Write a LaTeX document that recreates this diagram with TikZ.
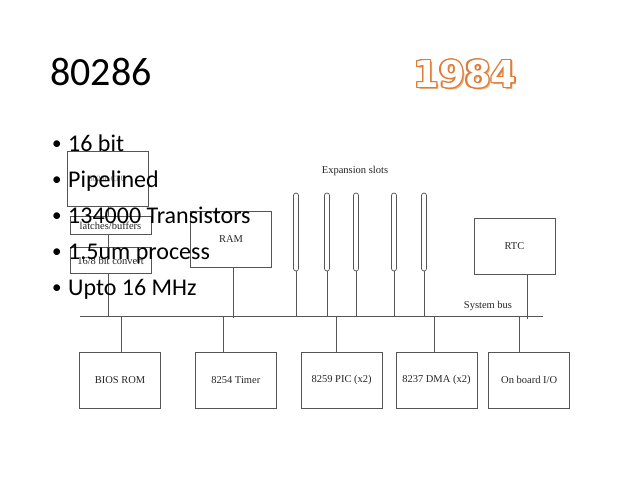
\documentclass[tikz,border=0pt]{standalone}
\usepackage{fontspec}
\setmainfont{Liberation Serif}
\newfontfamily\slidefont{Carlito}
\newfontfamily\yearfont{DejaVu Sans}
\usetikzlibrary{positioning, calc}
\definecolor{yearorange}{RGB}{224,122,52}
\definecolor{yearshadow}{RGB}{236,170,120}
\definecolor{wiregray}{RGB}{85,85,85}

\begin{document}
\begin{tikzpicture}[
        x = 1pt, y = -1pt,
        node distance = 10pt,
        every node/.style = {inner sep = 0pt},
        box/.style = {draw = wiregray, line width = 0.8pt, minimum width = 81pt, minimum height = 56pt,
                      font = \fontsize{10.5}{12}\selectfont, text = black!85},
        smallbox/.style = {box, minimum height = 18pt, font = \fontsize{10.5}{12}\selectfont},
        slot/.style = {draw = wiregray, line width = 0.7pt, rounded corners = 2.4pt,
                       minimum width = 5pt, minimum height = 78pt},
        wire/.style = {draw = wiregray, line width = 0.8pt},
        bullet/.style = {anchor = base west, font = \slidefont\fontsize{24}{28}\selectfont}
    ]

\useasboundingbox (0,0) rectangle (638,479);
\fill[white] (0,0) rectangle (638,479);

% cpu side
\node[box, minimum height = 55pt, font = \fontsize{8}{10}\selectfont, text = black!55] (cpu) at (107.5,178.5) {80286 CPU};
\node[smallbox] (latches) [below = 10pt of cpu, xshift = 3pt] {latches/buffers};
\node[smallbox, minimum height = 26pt] (convert) [below = 12pt of latches] {16/8 bit convert};
\node[box] (ram) at (231,239) {RAM};

% expansion slots
\node[font = \fontsize{10.5}{12}\selectfont, text = black!85] (slotlabel) at (355,171) {Expansion slots};
\foreach \x [count = \i] in {296, 327, 356, 394, 424}
    \node[slot] (slot\i) at (\x,232) {};

\node[box] (rtc) at (514.5,246) {RTC};

% system bus
\coordinate (busL) at (80,316);
\coordinate (busR) at (543,316);
\draw[wire] (busL) -- (busR);
\node[font = \fontsize{10.5}{12}\selectfont, text = black!85] (buslabel) at (488,306) {System bus};

% devices below the bus
\node[box] (bios) at (120,380) {BIOS ROM};
\node[box] (timer) [right = 34pt of bios] {8254 Timer};
\node[box] (pic) [right = 24pt of timer] {8259 PIC (x2)};
\node[box] (dma) [right = 13pt of pic] {8237 DMA (x2)};
\node[box] (io) [right = 11pt of dma] {On board I/O};

\coordinate (tapcpu) at (108,316);
\coordinate (tapram) at (233,318);
\coordinate (taprtc) at (527,319);
\coordinate (tapbios) at (121,316);
\coordinate (taptimer) at (223,316);
\coordinate (tappic) at (336,316);
\coordinate (tapdma) at (434,316);
\coordinate (tapio) at (519,316);

\path[wire]
    (tapcpu |- latches.north) edge (tapcpu |- cpu.south)
    (tapcpu |- latches.south) edge (tapcpu |- convert.north)
    (tapcpu |- convert.south) edge (tapcpu)
    (tapram |- ram.south) edge (tapram)
    (taprtc |- rtc.south) edge (taprtc)
    (tapbios) edge (tapbios |- bios.north)
    (taptimer) edge (taptimer |- timer.north)
    (tappic) edge (tappic |- pic.north)
    (tapdma) edge (tapdma |- dma.north)
    (tapio) edge (tapio |- io.north);

\foreach \i in {1,...,5}
    \path[wire] (slot\i.south) edge (slot\i.south |- busL);

% slide text
\node[anchor = base west, font = \slidefont\fontsize{40}{44}\selectfont] (title) at (50,85) {80286};

\node[text = yearshadow, font = \yearfont\bfseries\fontsize{37}{40}\selectfont] (yearshade) at (467,76) {1984};
\foreach \a in {0,30,...,330}
    \node[text = yearorange, font = \yearfont\bfseries\fontsize{37}{40}\selectfont] (yearline\a) at ($(465,74) + (\a:1.4pt)$) {1984};
\node[text = white, font = \yearfont\bfseries\fontsize{37}{40}\selectfont] (year) at (465,74) {1984};

\foreach \t [count = \i] in {16 bit, Pipelined, 134000 Transistors, 1.5um process, Upto 16 MHz}{
    \node[bullet, font = \slidefont\fontsize{19}{20}\selectfont] (dot\i) at (52,{113 + 36*\i}) {•};
    \node[bullet] (item\i) at (68,{115 + 36*\i}) {\t};
}

\end{tikzpicture}
\end{document}
